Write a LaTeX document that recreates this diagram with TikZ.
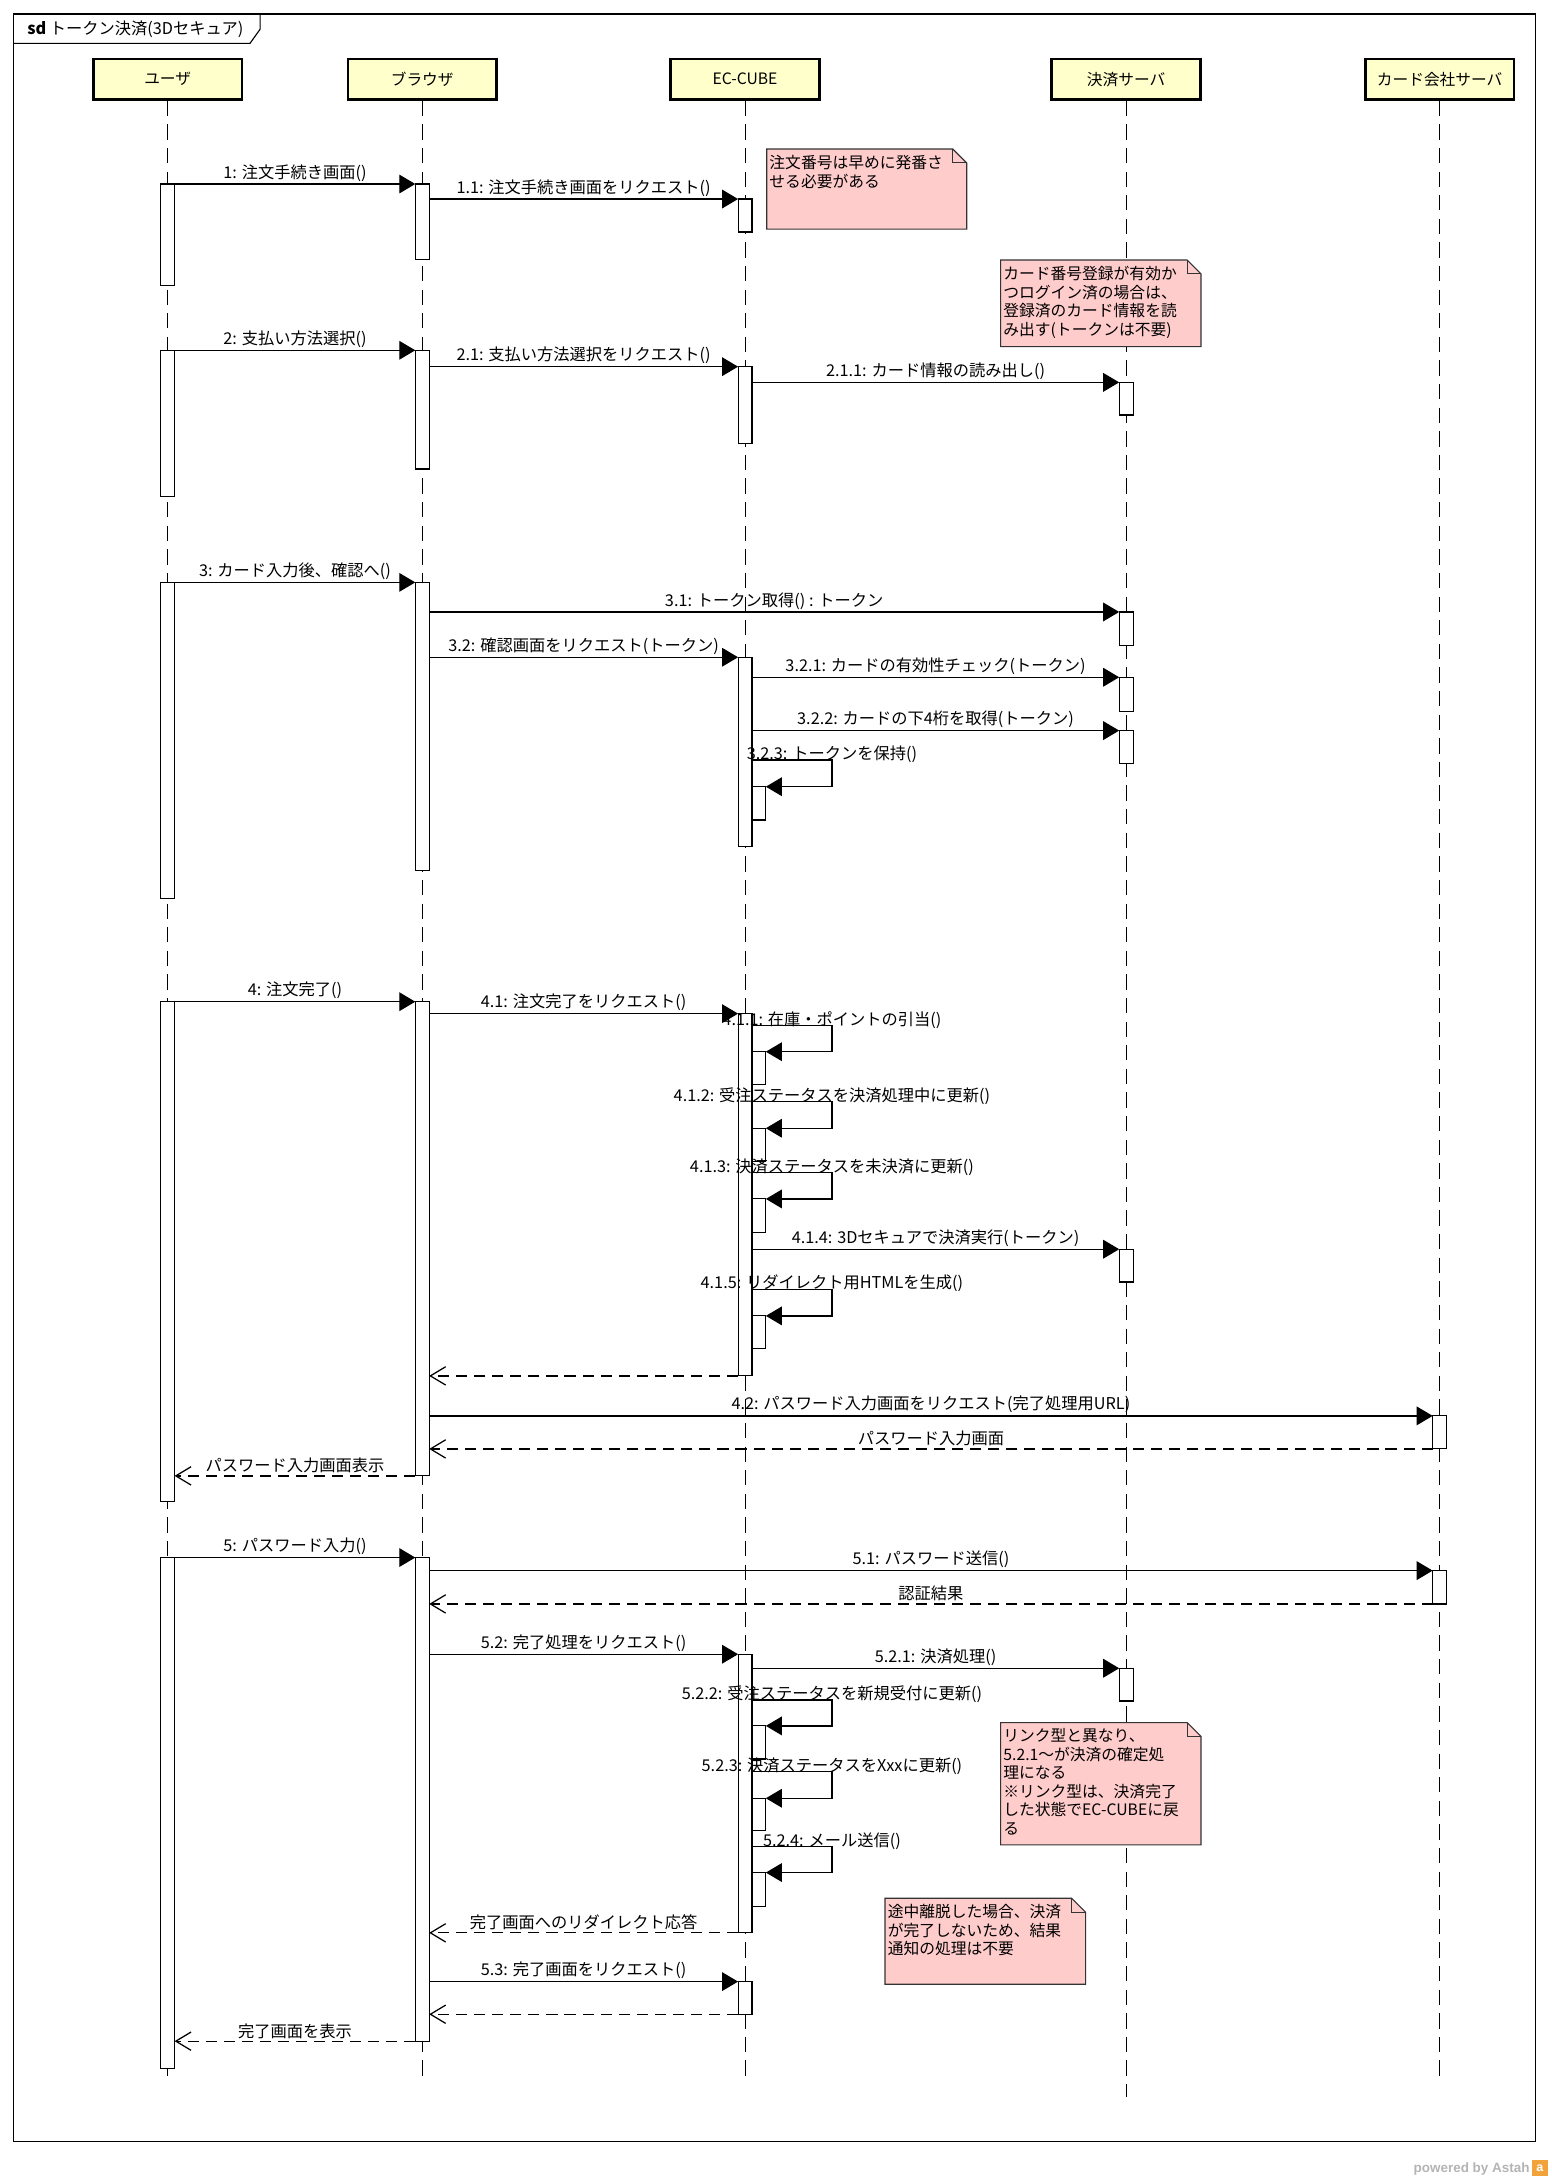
\documentclass[tikz,border=0pt]{standalone}
\usepackage{fontspec}
\setmainfont{Noto Sans CJK JP}
\newfontfamily\pwfont{Liberation Sans}
\usetikzlibrary{arrows.meta}
\definecolor{headfill}{HTML}{FFFFCC}
\definecolor{notefill}{HTML}{FFCCCC}
\definecolor{notedraw}{HTML}{333333}
\definecolor{pwgray}{HTML}{B4B4B4}
\definecolor{logoorange}{HTML}{F2A23A}
\newcommand\actv[4]{%
  \pgfmathsetmacro\acth{#4-#3}%
  \node[act, minimum height=\acth pt, anchor=north] (#1) at (#2,#3) {};}
\newcommand\notebox[6]{%
  \path[fill=notefill, draw=notedraw, line width=0.8pt] (#2,#3) -- (#4-10,#3) -- (#4,#3+10) -- (#4,#5) -- (#2,#5) -- cycle;
  \draw[draw=notedraw, line width=0.8pt] (#4-10,#3) -- (#4-10,#3+10) -- (#4,#3+10);
  \node[notetext, anchor=north west] (#1) at (#2+1.8,#3+4.3) {#6};}
\begin{document}
\begin{tikzpicture}[x=1pt,y=-1pt,
  head/.style={draw, line width=2pt, fill=headfill, minimum width=107pt, minimum height=29pt, inner sep=0pt, font=\fontsize{11.3}{13}\selectfont},
  life/.style={line width=0.7pt, dash pattern=on 11pt off 6pt},
  act/.style={draw, line width=0.8pt, fill=white, minimum width=10pt, inner sep=0pt, outer sep=0pt},
  msg/.style={line width=0.9pt, -{Triangle[length=11.5pt,width=13.4pt]}},
  ret/.style={line width=0.9pt, dash pattern=on 8pt off 5pt, -{Straight Barb[length=11pt,width=13.2pt,line width=0.9pt]}},
  lbl/.style={font=\fontsize{11.7}{13}\selectfont, inner sep=1.5pt, above},
  slbl/.style={font=\fontsize{11.7}{13}\selectfont, inner sep=0pt, yshift=4pt},
  notetext/.style={font=\fontsize{11.35}{13.3}\selectfont, align=left, inner sep=0pt}
]
\useasboundingbox (0,0) rectangle (1117.4,1571);
% frame
\draw[line width=1pt] (9.5,10.1) rectangle (1105.3,1541.9);
\draw[line width=0.8pt] (9.5,31.2) -- (180,31.2) -- (187.3,21) -- (187.3,10.1);
\node[anchor=west, inner sep=0pt, font=\fontsize{11.7}{13}\selectfont] (title) at (19.5,21) {\textbf{sd} トークン決済(3Dセキュア)};
% powered by
\node[anchor=east, inner sep=0pt, font=\pwfont\bfseries\fontsize{9.7}{11}\selectfont, text=pwgray] (pw) at (1101.5,1561.5) {powered by Astah};
\node[fill=logoorange, minimum size=12pt, inner sep=0pt, anchor=west, text=white, font=\pwfont\bfseries\fontsize{9}{10}\selectfont] (logo) at (1102.5,1561) {a};
% heads
\node[head] (hU) at (120.7,57) {ユーザ};
\node[head] (hB) at (304,57) {ブラウザ};
\node[head] (hE) at (536.4,57) {EC-CUBE};
\node[head] (hK) at (810.8,57) {決済サーバ};
\node[head] (hC) at (1036.5,57) {カード会社サーバ};
\coordinate (eU) at (120.7,1497);
\coordinate (eB) at (304,1497);
\coordinate (eE) at (536.4,1497);
\coordinate (eK) at (810.8,1510);
\coordinate (eC) at (1036.5,1497);
\draw[life] (hU.south) -- (eU);
\draw[life] (hB.south) -- (eB);
\draw[life] (hE.south) -- (eE);
\draw[life] (hK.south) -- (eK);
\draw[life] (hC.south) -- (eC);
% notes
\notebox{n1}{552}{107.3}{696}{165}{注文番号は早めに発番さ\\せる必要がある}
\notebox{n2}{720.4}{187.2}{864.7}{249.6}{カード番号登録が有効か\\つログイン済の場合は、\\登録済のカード情報を読\\み出す(トークンは不要)}
\notebox{n3}{720.4}{1240.2}{864.7}{1328.3}{リンク型と異なり、\\5.2.1～が決済の確定処\\理になる\\※リンク型は、決済完了\\した状態でEC-CUBEに戻\\る}
\notebox{n4}{637.2}{1366.7}{781.6}{1428.6}{途中離脱した場合、決済\\が完了しないため、結果\\通知の処理は不要}
% activation bars: user
\actv{A1}{120.7}{132.5}{205.4}
\actv{A2}{120.7}{252.2}{357.6}
\actv{A3}{120.7}{419.3}{647}
\actv{A4}{120.7}{721.2}{1081}
\actv{A5}{120.7}{1121.4}{1489.1}
% browser
\actv{B1}{304}{132.5}{186.7}
\actv{B2}{304}{252.2}{337.7}
\actv{B3}{304}{419.3}{627}
\actv{B4}{304}{721.2}{1062.6}
\actv{B5}{304}{1121.4}{1469.6}
% EC-CUBE
\actv{E1}{536.4}{143.3}{167}
\actv{E2}{536.4}{264}{319}
\actv{E3}{536.4}{473.2}{609.6}
\actv{E4}{536.4}{729.8}{990.6}
\actv{E5}{536.4}{1191}{1391.6}
\actv{E6}{536.4}{1426.7}{1450.2}
% nested
\actv{S323}{546.4}{566.4}{590.4}
\actv{S411}{546.4}{757.2}{781.1}
\actv{S412}{546.4}{812.3}{836.3}
\actv{S413}{546.4}{863.2}{887.2}
\actv{S415}{546.4}{947.4}{971}
\actv{S522}{546.4}{1242.6}{1266.4}
\actv{S523}{546.4}{1294.7}{1318.2}
\actv{S524}{546.4}{1348.2}{1372.7}
% payment server
\actv{K1}{810.8}{275.3}{298.8}
\actv{K2}{810.8}{440.6}{464.6}
\actv{K3}{810.8}{487.6}{512.1}
\actv{K4}{810.8}{526}{550}
\actv{K5}{810.8}{899.4}{923}
\actv{K6}{810.8}{1201.1}{1224.7}
% card server
\actv{C1}{1036.5}{1019.4}{1043.2}
\actv{C2}{1036.5}{1130.8}{1154.8}
% self-call loop corners
\coordinate (L323) at (599,547.2);
\coordinate (L411) at (599,738.4);
\coordinate (L412) at (599,793.1);
\coordinate (L413) at (599,844.2);
\coordinate (L415) at (599,928.2);
\coordinate (L522) at (599,1223.9);
\coordinate (L523) at (599,1275.5);
\coordinate (L524) at (599,1329.5);
% messages
\draw[msg] (A1.north east) -- node[lbl]{1: 注文手続き画面()} (B1.north west);
\draw[msg] (B1.east |- E1.north) -- node[lbl]{1.1: 注文手続き画面をリクエスト()} (E1.north west);
\draw[msg] (A2.north east) -- node[lbl]{2: 支払い方法選択()} (B2.north west);
\draw[msg] (B2.east |- E2.north) -- node[lbl]{2.1: 支払い方法選択をリクエスト()} (E2.north west);
\draw[msg] (E2.east |- K1.north) -- node[lbl]{2.1.1: カード情報の読み出し()} (K1.north west);
\draw[msg] (A3.north east) -- node[lbl]{3: カード入力後、確認へ()} (B3.north west);
\draw[msg] (B3.east |- K2.north) -- node[lbl]{3.1: トークン取得() : トークン} (K2.north west);
\draw[msg] (B3.east |- E3.north) -- node[lbl]{3.2: 確認画面をリクエスト(トークン)} (E3.north west);
\draw[msg] (E3.east |- K3.north) -- node[lbl]{3.2.1: カードの有効性チェック(トークン)} (K3.north west);
\draw[msg] (E3.east |- K4.north) -- node[lbl]{3.2.2: カードの下4桁を取得(トークン)} (K4.north west);
\draw[msg] (E3.east |- L323) -- (L323) node[slbl]{3.2.3: トークンを保持()} |- (S323.north east);
\draw[msg] (A4.north east) -- node[lbl]{4: 注文完了()} (B4.north west);
\draw[msg] (B4.east |- E4.north) -- node[lbl]{4.1: 注文完了をリクエスト()} (E4.north west);
\draw[msg] (E4.east |- L411) -- (L411) node[slbl]{4.1.1: 在庫・ポイントの引当()} |- (S411.north east);
\draw[msg] (E4.east |- L412) -- (L412) node[slbl]{4.1.2: 受注ステータスを決済処理中に更新()} |- (S412.north east);
\draw[msg] (E4.east |- L413) -- (L413) node[slbl]{4.1.3: 決済ステータスを未決済に更新()} |- (S413.north east);
\draw[msg] (E4.east |- K5.north) -- node[lbl]{4.1.4: 3Dセキュアで決済実行(トークン)} (K5.north west);
\draw[msg] (E4.east |- L415) -- (L415) node[slbl]{4.1.5: リダイレクト用HTMLを生成()} |- (S415.north east);
\draw[ret] (E4.south west) -- (B4.east |- E4.south);
\draw[msg] (B4.east |- C1.north) -- node[lbl]{4.2: パスワード入力画面をリクエスト(完了処理用URL)} (C1.north west);
\draw[ret] (C1.south west) -- node[lbl]{パスワード入力画面} (B4.east |- C1.south);
\draw[ret] (B4.south west) -- node[lbl]{パスワード入力画面表示} (A4.east |- B4.south);
\draw[msg] (A5.north east) -- node[lbl]{5: パスワード入力()} (B5.north west);
\draw[msg] (B5.east |- C2.north) -- node[lbl]{5.1: パスワード送信()} (C2.north west);
\draw[ret] (C2.south west) -- node[lbl]{認証結果} (B5.east |- C2.south);
\draw[msg] (B5.east |- E5.north) -- node[lbl]{5.2: 完了処理をリクエスト()} (E5.north west);
\draw[msg] (E5.east |- K6.north) -- node[lbl]{5.2.1: 決済処理()} (K6.north west);
\draw[msg] (E5.east |- L522) -- (L522) node[slbl]{5.2.2: 受注ステータスを新規受付に更新()} |- (S522.north east);
\draw[msg] (E5.east |- L523) -- (L523) node[slbl]{5.2.3: 決済ステータスをXxxに更新()} |- (S523.north east);
\draw[msg] (E5.east |- L524) -- (L524) node[slbl]{5.2.4: メール送信()} |- (S524.north east);
\draw[ret] (E5.south west) -- node[lbl]{完了画面へのリダイレクト応答} (B5.east |- E5.south);
\draw[msg] (B5.east |- E6.north) -- node[lbl]{5.3: 完了画面をリクエスト()} (E6.north west);
\draw[ret] (E6.south west) -- (B5.east |- E6.south);
\draw[ret] (B5.south west) -- node[lbl]{完了画面を表示} (A5.east |- B5.south);
\end{tikzpicture}
\end{document}
